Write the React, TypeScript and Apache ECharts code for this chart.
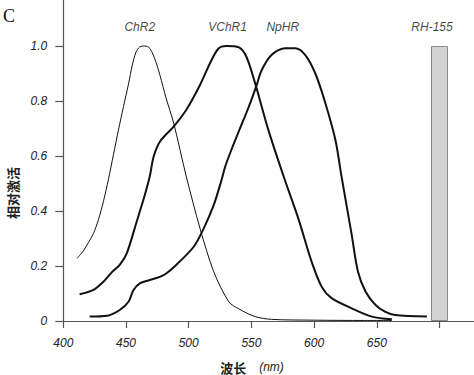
import React, { useEffect, useRef } from "react";
import * as echarts from "echarts";

const xTicks = [400, 450, 500, 550, 600, 650, 700];
const yTicks = [0, 0.2, 0.4, 0.6, 0.8, 1.0];

const chr2: [number, number][] = [
  [411, 0.228], [416, 0.255], [420, 0.285], [424, 0.318], [428, 0.368], [432, 0.435],
  [436, 0.515], [440, 0.605], [444, 0.695], [448, 0.78], [452, 0.862], [455, 0.93],
  [458, 0.978], [461, 0.997], [464, 1.0], [468, 0.996], [471, 0.975], [474, 0.94],
  [477, 0.895], [482, 0.81], [488, 0.72], [498, 0.527], [509, 0.337], [520, 0.179],
  [532, 0.07], [540, 0.044], [553, 0.016], [566, 0.006], [600, 0.003], [640, 0.002],
  [662, 0.002],
];

const vchr1: [number, number][] = [
  [413, 0.097], [424, 0.113], [432, 0.143], [438.6, 0.177], [445, 0.204], [450.6, 0.246],
  [458.5, 0.361], [465, 0.458], [469, 0.527], [472, 0.597], [477, 0.652], [488, 0.707],
  [498, 0.767], [509, 0.858], [517, 0.937], [523.6, 0.99], [530, 1.0], [540, 0.995],
  [546, 0.961], [553, 0.864], [563.5, 0.695], [576, 0.522], [587.4, 0.373], [598, 0.216],
  [606, 0.125], [614, 0.083], [630, 0.046], [646, 0.016], [662, 0.006],
];

const nphr: [number, number][] = [
  [421, 0.016], [435, 0.019], [445, 0.04], [452, 0.07], [456, 0.113], [461, 0.137],
  [469, 0.149], [480, 0.167], [490, 0.204], [504, 0.27], [512, 0.337], [520, 0.422],
  [526, 0.51], [529, 0.56], [533, 0.61], [540, 0.69], [548, 0.78], [554, 0.855],
  [558, 0.91], [566, 0.967], [577, 0.992], [585, 0.992], [593, 0.967], [601, 0.9],
  [609, 0.792], [617, 0.658], [622, 0.522], [630, 0.313], [635, 0.179], [641, 0.107],
  [649, 0.058], [656.5, 0.034], [664.5, 0.022], [690, 0.016],
];

const rh155: [number, number][] = [[700, 1.0]];

const seriesLabels: { name: string; value: [number, number] }[] = [
  { name: "ChR2", value: [461, 1.07] },
  { name: "VChR1", value: [531, 1.07] },
  { name: "NpHR", value: [575, 1.07] },
  { name: "RH-155", value: [694, 1.07] },
];

const FONT = "'Liberation Sans', Arial, sans-serif";

export default function App() {
  const ref = useRef<HTMLDivElement>(null);
  useEffect(() => {
    if (!ref.current) return;
    const chart = echarts.init(ref.current, undefined, { renderer: "svg" });
    const lineColor = "#111";
    chart.setOption({
      animation: false,
      backgroundColor: "#fff",
      grid: {
        left: 63.3,
        right: -28.2,
        top: -9,
        bottom: 54,
        containLabel: false,
        outerBoundsMode: "none",
      },
      xAxis: {
        type: "value",
        min: 400,
        max: 750,
        interval: 50,
        axisLine: { show: true, lineStyle: { color: "#555", width: 1.2 } },
        axisTick: { show: true, length: 7, lineStyle: { color: "#555", width: 1.2 } },
        axisLabel: {
          formatter: (v: number) => (xTicks.includes(v) && v < 700 ? String(v) : ""),
          fontStyle: "italic",
          fontFamily: FONT,
          fontSize: 12,
          color: "#222",
          margin: 16,
        },
        splitLine: { show: false },
      },
      yAxis: {
        type: "value",
        min: 0,
        max: 1.2,
        interval: 0.2,
        axisLine: { show: true, lineStyle: { color: "#555", width: 1.2 } },
        axisTick: { show: true, length: 8, lineStyle: { color: "#555", width: 1.2 } },
        axisLabel: {
          formatter: (v: number) => {
            const t = yTicks.find((y) => Math.abs(y - v) < 1e-6);
            if (t === undefined) return "";
            return t === 0 ? "0" : t.toFixed(1);
          },
          fontStyle: "italic",
          fontFamily: FONT,
          fontSize: 12,
          color: "#222",
          margin: 16,
        },
        splitLine: { show: false },
      },
      graphic: [
        {
          type: "text",
          left: 3,
          top: 7,
          style: { text: "C", font: "18px 'Liberation Serif', 'Times New Roman', serif", fill: "#111" },
        },
        {
          type: "text",
          x: 12,
          y: 193,
          rotation: Math.PI / 2,
          style: {
            text: "相对激活",
            font: "bold 13px 'Noto Sans CJK SC', sans-serif",
            fill: "#222",
            align: "center",
            verticalAlign: "middle",
          },
        },
        {
          type: "text",
          x: 252,
          y: 367,
          style: {
            text: "{a|波长}{b|(nm)}",
            align: "center",
            verticalAlign: "middle",
            rich: {
              a: { font: "bold 13px 'Noto Sans CJK SC', sans-serif", fill: "#222" },
              b: {
                font: "italic 12px 'Liberation Sans', Arial, sans-serif",
                fill: "#222",
                padding: [0, 0, 0, 13],
              },
            },
          },
        },
      ],
      series: [
        {
          name: "ChR2",
          type: "line",
          data: chr2,
          showSymbol: false,
          smooth: 0.3,
          lineStyle: { color: lineColor, width: 1 },
          silent: true,
        },
        {
          name: "VChR1",
          type: "line",
          data: vchr1,
          showSymbol: false,
          smooth: 0.3,
          lineStyle: { color: lineColor, width: 2 },
          silent: true,
        },
        {
          name: "NpHR",
          type: "line",
          data: nphr,
          showSymbol: false,
          smooth: 0.3,
          lineStyle: { color: lineColor, width: 2 },
          silent: true,
        },
        {
          name: "RH-155",
          type: "bar",
          data: rh155,
          barWidth: 17,
          itemStyle: { color: "#d3d3d3", borderColor: "#888", borderWidth: 1 },
          silent: true,
        },
        {
          name: "labels",
          type: "scatter",
          data: seriesLabels,
          symbolSize: 1,
          itemStyle: { color: "rgba(0,0,0,0)" },
          label: {
            show: true,
            position: "inside",
            formatter: (p: any) => p.name,
            fontStyle: "italic",
            fontFamily: FONT,
            fontSize: 12,
            color: "#111",
          },
          silent: true,
        },
      ],
    });
    return () => chart.dispose();
  }, []);
  return <div ref={ref} style={{ width: 474, height: 375, position: "absolute", left: 0, top: 0 }} />;
}
